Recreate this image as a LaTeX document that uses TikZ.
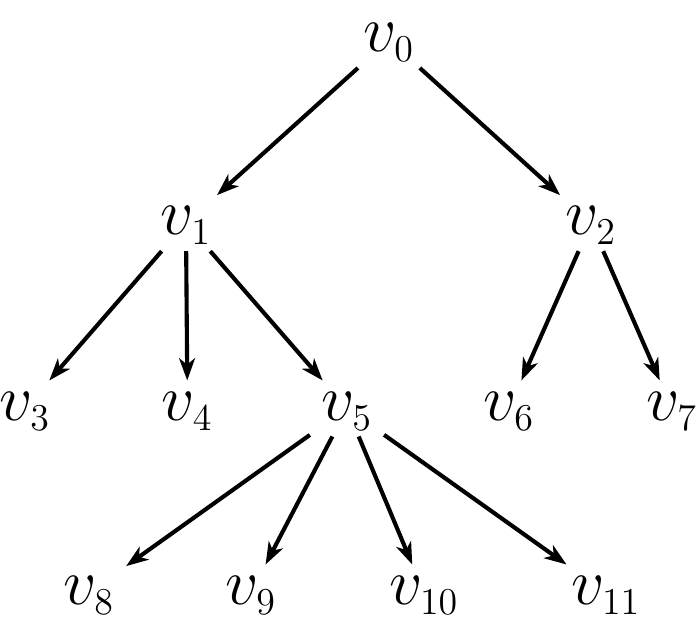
\documentclass[tikz,border=0pt]{standalone}
\usepackage{amsmath}
\usetikzlibrary{arrows.meta}
\DeclareMathSizes{20.74}{20.74}{12}{10}
\tikzset{vert/.style={font=\huge,inner sep=3pt,text depth=1.5pt}}

\begin{document}
\begin{tikzpicture}[>={Stealth[length=7pt,width=5pt,inset=2pt]},line width=1.3pt]
                \useasboundingbox (0,0) rectangle (7.785,6.94);
                \node[vert] (v0) at (4.326,6.495) {$v_0$};
                \node[vert] (v1) at (2.068,4.458) {$v_1$};
                \node[vert] (v2) at (6.573,4.458) {$v_2$};
                \node[vert] (v3) at (0.278,2.397) {$v_3$};
                \node[vert] (v4) at (2.085,2.397) {$v_4$};
                \node[vert] (v5) at (3.859,2.397) {$v_5$};
                \node[vert] (v6) at (5.661,2.397) {$v_6$};
                \node[vert] (v7) at (7.473,2.397) {$v_7$};
                \node[vert] (v8) at (0.99,0.35) {$v_8$};
                \node[vert] (v9) at (2.791,0.35) {$v_9$};
                \node[vert] (v10) at (4.715,0.35) {$v_{10}$};
                \node[vert] (v11) at (6.739,0.35) {$v_{11}$};
                \draw[->] (v0)--(v1);
                \draw[->] (v0)--(v2);
                \draw[->] (v1)--(v3);
                \draw[->] (v1)--(v4);
                \draw[->] (v1)--(v5);
                \draw[->] (v2)--(v6);
                \draw[->] (v2)--(v7);
                \draw[->] (v5)--(v8);
                \draw[->] (v5)--(v9);
                \draw[->] (v5)--(v10);
                \draw[->] (v5)--(v11);
            \end{tikzpicture}
\end{document}
